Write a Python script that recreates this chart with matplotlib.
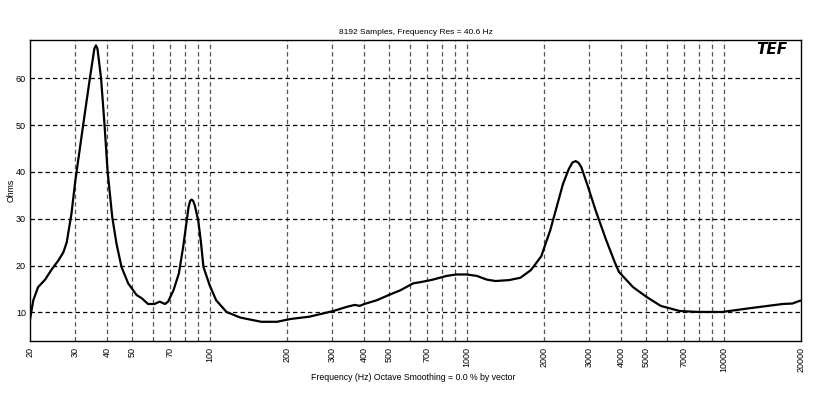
import matplotlib
matplotlib.use("Agg")
import matplotlib.pyplot as plt
from matplotlib.ticker import FixedLocator, NullFormatter
import numpy as np

# ---- data ----
freq_hz = [20, 20.6, 21.5, 22.9, 24.3, 25.8, 27.0, 27.8, 29.0, 30.0, 32.2, 34.2,
           35.6, 36.1, 36.6, 37.8, 39.0, 40.1, 41.8, 43.4, 45.4, 48.2, 52.0, 54.5,
           57.6, 61.0, 63.9, 67.0, 68.9, 72.3, 75.9, 78.9, 82.8, 84.0, 85.1, 86.3,
           87.6, 90.3, 92.5, 94.6, 100.0, 106.0, 116.3, 131.6, 158.8, 182.9, 206.6,
           245, 303, 342, 367, 384, 400, 447, 497, 551, 619, 667, 739, 837, 912,
           1000, 1095, 1199, 1296, 1463, 1619, 1775, 1834, 1952, 2000, 2114, 2240,
           2370, 2497, 2580, 2658, 2730, 2794, 2955, 3175, 3493, 3790, 3920, 4441,
           5015, 5688, 6746, 7967, 9878, 12640, 16970, 18520, 19820, 20000]
impedance_ohm = [8.5, 12.6, 15.4, 17.0, 19.2, 21.1, 22.9, 25.0, 31.1, 38.0, 50.0, 60.0,
                 66.3, 67.0, 66.3, 60.0, 50.0, 40.0, 30.3, 24.7, 19.7, 16.2, 13.7, 13.0,
                 11.8, 11.8, 12.3, 11.8, 12.3, 14.7, 18.3, 24.0, 32.5, 33.8, 34.1, 33.8,
                 32.8, 29.6, 25.0, 19.7, 15.8, 12.6, 10.1, 8.9, 8.0, 8.0, 8.6,
                 9.1, 10.3, 11.2, 11.6, 11.4, 11.8, 12.6, 13.7, 14.7, 16.2, 16.5, 17.0, 17.8, 18.1,
                 18.1, 17.8, 17.0, 16.7, 16.9, 17.4, 19.0, 20.0, 22.0, 23.7, 27.5, 32.5,
                 37.4, 40.6, 42.0, 42.3, 41.9, 41.0, 37.1, 31.8, 25.4, 20.4, 18.6, 15.4,
                 13.3, 11.4, 10.3, 10.1, 10.1, 10.9, 11.8, 11.9, 12.5, 12.5]

x_tick_values = [20, 30, 40, 50, 70, 100, 200, 300, 400, 500, 700, 1000,
                 2000, 3000, 4000, 5000, 7000, 10000, 20000]
x_grid_values = [30, 40, 50, 60, 70, 80, 90, 100, 200, 300, 400, 500, 600, 700, 800, 900,
                 1000, 2000, 3000, 4000, 5000, 6000, 7000, 8000, 9000, 10000]
y_tick_values = [10, 20, 30, 40, 50, 60]

title_text = "8192 Samples, Frequency Res = 40.6 Hz"
xlabel_text = "Frequency (Hz) Octave Smoothing = 0.0 % by vector"
ylabel_text = "Ohms"

plt.rcParams['font.family'] = ['Liberation Sans', 'DejaVu Sans']

W, H = 817, 397
fig = plt.figure(figsize=(W / 100, H / 100), dpi=100)
ax = fig.add_axes([30 / W, 1 - 341 / H, (801 - 30) / W, (341 - 40) / H])

ax.set_xscale('log')
ax.set_xlim(20, 20000)
ax.set_ylim(3.9, 68.15)

# grid lines
for gx in x_grid_values:
    ax.axvline(gx, color='#555555', lw=0.9, ls=(0, (3.5, 2.5)), zorder=1)
for gy in y_tick_values:
    ax.axhline(gy, color='black', lw=0.9, ls=(0, (3.5, 2.5)), zorder=1)

ax.plot(freq_hz, impedance_ohm, color='black', lw=1.6, zorder=3,
        solid_joinstyle='round')

ax.xaxis.set_major_locator(FixedLocator(x_tick_values))
ax.xaxis.set_minor_locator(FixedLocator([]))
ax.xaxis.set_minor_formatter(NullFormatter())
ax.set_xticklabels([str(v) for v in x_tick_values], rotation=90, fontsize=6.5)
ax.set_yticks(y_tick_values)
ax.set_yticklabels([str(v) for v in y_tick_values], fontsize=6.5)
ax.tick_params(axis='both', length=0, pad=3)
ax.tick_params(axis='x', pad=4)

for s in ax.spines.values():
    s.set_color('black')
    s.set_linewidth(1.0)

ax.set_title(title_text, fontsize=6, pad=4)
fig.text(413 / W, 1 - 378 / H, xlabel_text, fontsize=6.3, ha='center', va='center')
fig.text(11 / W, 1 - 190 / H, ylabel_text, fontsize=6.3, ha='center', va='center',
         rotation=90)

# TEF logo
fig.text(772 / W, 1 - 49 / H, "TEF", fontsize=11, fontweight='heavy', style='italic',
         ha='center', va='center', family='DejaVu Sans')

fig.savefig("out.png", dpi=100)
